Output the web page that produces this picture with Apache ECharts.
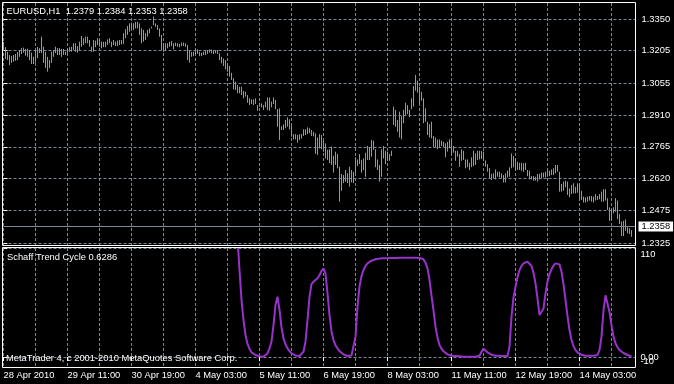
<!DOCTYPE html>
<html><head><meta charset="utf-8">
<script src="https://cdn.jsdelivr.net/npm/echarts@6/dist/echarts.min.js"></script>
<style>html,body{margin:0;padding:0;background:#000;}#c{width:674px;height:384px;}</style>
</head><body><div id="c"></div>
<script>
// ---------- data ----------
const symbolTitle = 'EURUSD,H1';
const lastOHLC = [1.2379, 1.2384, 1.2353, 1.2358];
const indicatorName = 'Schaff Trend Cycle';
const indicatorLast = 0.6286;
const copyrightText = 'MetaTrader 4, c 2001-2010 MetaQuotes Software Corp.';

const timeLabels = ['28 Apr 2010', '29 Apr 11:00', '30 Apr 19:00', '4 May 03:00', '5 May 11:00',
  '6 May 19:00', '8 May 03:00', '11 May 11:00', '12 May 19:00', '14 May 03:00'];
const timeLabelBars = [0, 32, 64, 96, 128, 160, 192, 224, 256, 288];

const priceTickLabels = ['1.3350', '1.3205', '1.3055', '1.2910', '1.2765', '1.2620', '1.2475', '1.2325'];
const stcTickValues = [110, 0];
const stcTickLabels = ['110', '0.00'];
const stcMinValue = -10;
const stcMinLabel = '-10';

const barHigh = [
1.3245,1.3221,1.3200,1.3185,1.3181,1.3185,1.3190,1.3199,1.3208,1.3217,
1.3219,1.3213,1.3214,1.3208,1.3196,1.3177,1.3208,1.3222,1.3217,1.3269,
1.3223,1.3200,1.3177,1.3162,1.3200,1.3208,1.3223,1.3217,1.3217,1.3213,
1.3213,1.3200,1.3216,1.3221,1.3223,1.3239,1.3239,1.3226,1.3246,1.3272,
1.3262,1.3269,1.3269,1.3254,1.3223,1.3254,1.3251,1.3262,1.3254,1.3246,
1.3246,1.3246,1.3257,1.3262,1.3246,1.3254,1.3246,1.3251,1.3254,1.3254,
1.3285,1.3303,1.3318,1.3330,1.3333,1.3330,1.3337,1.3337,1.3330,1.3307,
1.3300,1.3285,1.3300,1.3307,1.3315,1.3361,1.3330,1.3322,1.3307,1.3277,
1.3239,1.3239,1.3239,1.3245,1.3249,1.3239,1.3242,1.3239,1.3236,1.3242,
1.3242,1.3239,1.3231,1.3204,1.3200,1.3200,1.3211,1.3211,1.3200,1.3196,
1.3200,1.3204,1.3208,1.3211,1.3211,1.3208,1.3204,1.3208,1.3193,1.3177,
1.3169,1.3162,1.3147,1.3135,1.3104,1.3079,1.3063,1.3048,1.3040,1.3040,
1.3021,1.3017,1.3002,1.2987,1.2982,1.2982,1.2987,1.2956,1.2967,1.2964,
1.2956,1.2972,1.2991,1.2991,1.2972,1.2991,1.2979,1.2938,1.2941,1.2859,
1.2868,1.2888,1.2900,1.2891,1.2860,1.2823,1.2823,1.2819,1.2823,1.2823,
1.2845,1.2845,1.2854,1.2850,1.2842,1.2834,1.2827,1.2808,1.2823,1.2819,
1.2796,1.2781,1.2751,1.2754,1.2766,1.2724,1.2743,1.2732,1.2674,1.2641,
1.2636,1.2659,1.2644,1.2674,1.2659,1.2651,1.2717,1.2707,1.2732,1.2705,
1.2712,1.2738,1.2769,1.2763,1.2796,1.2793,1.2754,1.2707,1.2682,1.2754,
1.2769,1.2747,1.2743,1.2732,1.2747,1.2949,1.2934,1.2888,1.2926,1.2906,
1.2934,1.2967,1.2956,1.2934,1.2987,1.3043,1.3094,1.3068,1.3040,1.3017,
1.2987,1.2941,1.2880,1.2869,1.2880,1.2815,1.2808,1.2799,1.2799,1.2793,
1.2788,1.2781,1.2788,1.2799,1.2796,1.2769,1.2747,1.2747,1.2732,1.2754,
1.2747,1.2707,1.2707,1.2692,1.2717,1.2747,1.2735,1.2747,1.2747,1.2746,
1.2743,1.2703,1.2686,1.2668,1.2641,1.2644,1.2662,1.2651,1.2651,1.2644,
1.2636,1.2644,1.2656,1.2671,1.2735,1.2723,1.2712,1.2697,1.2692,1.2692,
1.2690,1.2692,1.2659,1.2656,1.2631,1.2631,1.2628,1.2641,1.2641,1.2647,
1.2647,1.2651,1.2659,1.2656,1.2662,1.2667,1.2682,1.2682,1.2651,1.2595,
1.2606,1.2610,1.2606,1.2575,1.2590,1.2598,1.2582,1.2598,1.2598,1.2564,
1.2537,1.2534,1.2537,1.2540,1.2540,1.2537,1.2549,1.2540,1.2549,1.2560,
1.2571,1.2571,1.2530,1.2488,1.2479,1.2488,1.2530,1.2519,1.2458,1.2423,
1.2427,1.2433,1.2397,1.2392,1.2384];
const barLow = [
1.3204,1.3167,1.3162,1.3139,1.3149,1.3155,1.3159,1.3162,1.3177,1.3190,
1.3196,1.3182,1.3177,1.3162,1.3144,1.3144,1.3150,1.3171,1.3194,1.3194,
1.3149,1.3126,1.3109,1.3126,1.3149,1.3177,1.3194,1.3185,1.3185,1.3177,
1.3185,1.3185,1.3193,1.3200,1.3200,1.3208,1.3200,1.3196,1.3208,1.3223,
1.3231,1.3239,1.3239,1.3223,1.3200,1.3200,1.3221,1.3231,1.3223,1.3216,
1.3221,1.3221,1.3231,1.3239,1.3221,1.3231,1.3226,1.3226,1.3231,1.3234,
1.3236,1.3262,1.3277,1.3292,1.3303,1.3300,1.3307,1.3307,1.3277,1.3239,
1.3246,1.3254,1.3269,1.3285,1.3307,1.3322,1.3315,1.3300,1.3269,1.3208,
1.3200,1.3204,1.3216,1.3223,1.3226,1.3211,1.3226,1.3223,1.3221,1.3226,
1.3226,1.3223,1.3162,1.3150,1.3177,1.3180,1.3185,1.3190,1.3180,1.3180,
1.3185,1.3185,1.3190,1.3196,1.3193,1.3190,1.3193,1.3190,1.3162,1.3147,
1.3135,1.3120,1.3109,1.3086,1.3071,1.3028,1.3025,1.3010,1.3010,1.3002,
1.2987,1.2995,1.2967,1.2956,1.2961,1.2956,1.2961,1.2930,1.2949,1.2946,
1.2934,1.2946,1.2934,1.2930,1.2946,1.2961,1.2937,1.2857,1.2796,1.2842,
1.2842,1.2850,1.2857,1.2845,1.2811,1.2799,1.2799,1.2784,1.2796,1.2803,
1.2815,1.2819,1.2823,1.2827,1.2815,1.2813,1.2733,1.2728,1.2758,1.2754,
1.2743,1.2712,1.2705,1.2690,1.2682,1.2647,1.2682,1.2667,1.2514,1.2564,
1.2599,1.2606,1.2599,1.2583,1.2602,1.2599,1.2644,1.2677,1.2686,1.2647,
1.2659,1.2628,1.2705,1.2705,1.2720,1.2751,1.2672,1.2659,1.2606,1.2628,
1.2712,1.2686,1.2705,1.2701,1.2723,1.2865,1.2857,1.2834,1.2808,1.2799,
1.2873,1.2911,1.2915,1.2900,1.2937,1.2949,1.3022,1.3013,1.2961,1.2976,
1.2873,1.2880,1.2819,1.2808,1.2804,1.2763,1.2763,1.2754,1.2763,1.2769,
1.2763,1.2717,1.2743,1.2758,1.2732,1.2738,1.2701,1.2720,1.2674,1.2701,
1.2705,1.2667,1.2672,1.2659,1.2672,1.2677,1.2682,1.2705,1.2707,1.2709,
1.2700,1.2674,1.2651,1.2622,1.2613,1.2621,1.2616,1.2628,1.2625,1.2621,
1.2602,1.2602,1.2625,1.2628,1.2667,1.2671,1.2656,1.2659,1.2659,1.2656,
1.2651,1.2659,1.2631,1.2616,1.2616,1.2610,1.2610,1.2606,1.2616,1.2621,
1.2625,1.2625,1.2628,1.2631,1.2636,1.2636,1.2644,1.2651,1.2560,1.2560,
1.2564,1.2580,1.2545,1.2534,1.2549,1.2552,1.2552,1.2555,1.2519,1.2522,
1.2510,1.2510,1.2514,1.2519,1.2514,1.2510,1.2519,1.2522,1.2525,1.2514,
1.2514,1.2519,1.2476,1.2427,1.2427,1.2461,1.2468,1.2434,1.2412,1.2357,
1.2357,1.2381,1.2369,1.2366,1.2353];

const stcStart = 117;
const stcValues = [
120,87.8,57.6,37.4,22.3,13.2,8.2,4.8,3.1,2.1,
1.4,0.8,0.4,0.4,1.1,3.7,8.8,15.5,32.3,52.5,
60.9,47.5,30.0,18.9,12.9,8.8,6.1,3.7,2.7,1.7,
1.1,1.1,1.4,5.4,15.5,37.4,60.9,73.6,76.0,77.4,
79.4,82.7,86.8,89.5,84.4,64.3,42.4,25.6,17.2,11.8,
8.8,6.1,4.1,2.7,1.7,1.1,1.1,1.7,3.7,20.6,
50.9,71.0,81.8,87.8,91.9,94.5,96.2,97.2,97.9,98.6,
98.9,99.3,99.3,99.6,99.6,99.6,99.9,99.9,99.9,99.9,
100.2,100.2,100.2,100.2,100.2,100.2,100.2,100.2,100.2,100.2,
100.2,99.9,99.6,98.6,95.2,89.5,77.8,62.0,47.2,30.7,
19.6,12.2,8.5,5.8,4.1,2.7,1.7,1.4,1.1,1.1,
1.1,0.8,0.8,0.4,0.4,0.4,0.4,0.4,0.4,0.4,
0.4,1.4,5.4,8.5,7.1,4.8,3.4,2.4,1.7,1.4,
1.4,1.4,1.1,1.1,0.8,0.8,10.5,40.7,60.2,70.9,
80.4,87.8,91.9,94.5,95.9,96.2,95.6,91.9,85.1,74.4,
59.2,42.4,42.1,49.1,64.3,76.0,83.8,88.5,92.2,94.5,
96.2,93.5,86.1,73.6,57.6,41.4,27.3,17.2,11.1,7.1,
4.8,3.4,2.4,1.7,1.4,1.4,1.4,1.4,1.4,1.4,
2.1,7.1,20.6,47.2,62.3,61.3,45.5,32.0,20.6,13.9,
9.9,7.1,5.4,4.1,2.7,2.1,1.4,0.63];

// ---------- chart ----------
const FONT = 'Liberation Sans';
const FS = 9.35;
const GRIDC = '#778899';
const BARC = '#3cdc28';
const STCC = '#9932cc';
const priceTickValues = priceTickLabels.map(Number);

const barData = barHigh.map((h, i) => [i, h, barLow[i]]);
const stcData = stcValues.map((v, k) => [stcStart + k, v]);

function renderBar(params, api) {
  const x = api.value(0);
  const p1 = api.coord([x, api.value(1)]);
  const p2 = api.coord([x, api.value(2)]);
  return {
    type: 'line',
    shape: { x1: p1[0], y1: p1[1], x2: p2[0], y2: p2[1] },
    style: { stroke: BARC, lineWidth: 1 }
  };
}

const splitDash = { show: true, lineStyle: { color: GRIDC, type: [3, 2], width: 1 } };
const hiddenAxisX = (gi) => ({
  gridIndex: gi, type: 'value', min: 0, max: 316, interval: 16,
  axisLine: { show: false }, axisTick: { show: false }, axisLabel: { show: false },
  splitLine: splitDash
});

const chart = echarts.init(document.getElementById('c'), null, { renderer: 'canvas' });
chart.setOption({
  backgroundColor: '#000',
  animation: false,
  textStyle: { fontFamily: FONT },
  grid: [
    { left: 3.5, top: 3, width: 632, height: 242 },
    { left: 3.5, top: 248, width: 632, height: 119 }
  ],
  xAxis: [
    hiddenAxisX(0),
    hiddenAxisX(1),
    {
      gridIndex: 1, type: 'value', min: 0, max: 316, interval: 32, position: 'bottom',
      axisLine: { show: false },
      axisTick: { show: true, length: 4, customValues: timeLabelBars, lineStyle: { color: '#fff' } },
      axisLabel: {
        show: true, customValues: timeLabelBars, color: '#fff', fontSize: FS, fontFamily: FONT,
        align: 'left', margin: 4, hideOverlap: false,
        formatter: (v) => { const k = timeLabelBars.indexOf(v); return k >= 0 ? timeLabels[k] : ''; }
      },
      splitLine: { show: false }
    }
  ],
  yAxis: [
    {
      gridIndex: 0, type: 'value', position: 'right', min: 1.23158, max: 1.34232,
      axisLine: { show: false },
      axisTick: { show: true, length: 4, customValues: priceTickValues, lineStyle: { color: '#fff' } },
      axisLabel: {
        customValues: priceTickValues, color: '#fff', fontSize: FS, fontFamily: FONT, margin: 6,
        hideOverlap: false,
        formatter: (v) => { const k = priceTickValues.indexOf(v); return k >= 0 ? priceTickLabels[k] : ''; }
      },
      splitLine: splitDash
    },
    {
      gridIndex: 1, type: 'value', position: 'right', min: -10, max: 110,
      axisLine: { show: false },
      axisTick: { show: true, length: 4, customValues: stcTickValues, lineStyle: { color: '#fff' } },
      axisLabel: {
        customValues: stcTickValues, color: '#fff', fontSize: FS, fontFamily: FONT, margin: 5,
        hideOverlap: false,
        formatter: (v) => {
          const k = stcTickValues.indexOf(v);
          if (k < 0) return '';
          return '{' + (k === 0 ? 'a' : 'b') + '|' + stcTickLabels[k] + '}';
        },
        rich: {
          a: { color: '#fff', fontSize: FS, fontFamily: FONT, padding: [13, 0, 0, 0] },
          b: { color: '#fff', fontSize: FS, fontFamily: FONT }
        }
      },
      splitLine: splitDash
    },
    {
      gridIndex: 1, type: 'value', position: 'right', min: -10, max: 110,
      axisLine: { show: false },
      axisTick: { show: false, customValues: [stcMinValue] },
      axisLabel: {
        customValues: [stcMinValue], color: '#fff', fontSize: FS, fontFamily: FONT, margin: 5,
        hideOverlap: false, showMinLabel: true,
        formatter: (v) => (v === stcMinValue ? '{c|' + stcMinLabel + '}' : ''),
        rich: {
          c: { color: '#fff', fontSize: FS, fontFamily: FONT, padding: [0, 0, 12, 0] }
        }
      },
      splitLine: { show: false }
    }
  ],
  series: [
    {
      type: 'custom', xAxisIndex: 0, yAxisIndex: 0, renderItem: renderBar,
      data: barData, encode: { x: 0, y: [1, 2] }, clip: true, silent: true
    },
    {
      type: 'line', xAxisIndex: 0, yAxisIndex: 0, data: [], silent: true,
      markLine: {
        silent: true, symbol: ['none', 'none'], animation: false,
        lineStyle: { color: GRIDC, type: 'solid', width: 1 },
        label: {
          show: true, position: 'end', distance: 3,
          formatter: lastOHLC[3].toFixed(4),
          backgroundColor: '#fff', color: '#000', fontSize: FS, fontFamily: FONT,
          padding: [1, 3, 0, 3]
        },
        data: [{ yAxis: lastOHLC[3] }]
      }
    },
    {
      type: 'line', xAxisIndex: 1, yAxisIndex: 1, data: stcData,
      showSymbol: false, symbol: 'none', clip: true, silent: true,
      lineStyle: { color: STCC, width: 2 }
    }
  ],
  graphic: [
    { type: 'rect', silent: true, z: 100, shape: { x: 2.5, y: 2.5, width: 633, height: 243 },
      style: { fill: null, stroke: '#fff', lineWidth: 1 } },
    { type: 'rect', silent: true, z: 100, shape: { x: 2.5, y: 247.5, width: 633, height: 120 },
      style: { fill: null, stroke: '#fff', lineWidth: 1 } },
    { type: 'text', silent: true, z: 101, x: 6.5, y: 11,
      style: { text: symbolTitle + '  ' + lastOHLC.map(v => v.toFixed(4)).join(' '),
        fill: '#fff', font: FS + 'px "' + FONT + '"', verticalAlign: 'middle' } },
    { type: 'text', silent: true, z: 101, x: 7, y: 257.3,
      style: { text: indicatorName + ' ' + indicatorLast.toFixed(4),
        fill: '#fff', font: FS + 'px "' + FONT + '"', verticalAlign: 'middle' } },
    { type: 'text', silent: true, z: 101, x: 6, y: 358.3,
      style: { text: copyrightText,
        fill: '#fff', font: FS + 'px "' + FONT + '"', verticalAlign: 'middle' } }
  ]
});
</script>
</body></html>
